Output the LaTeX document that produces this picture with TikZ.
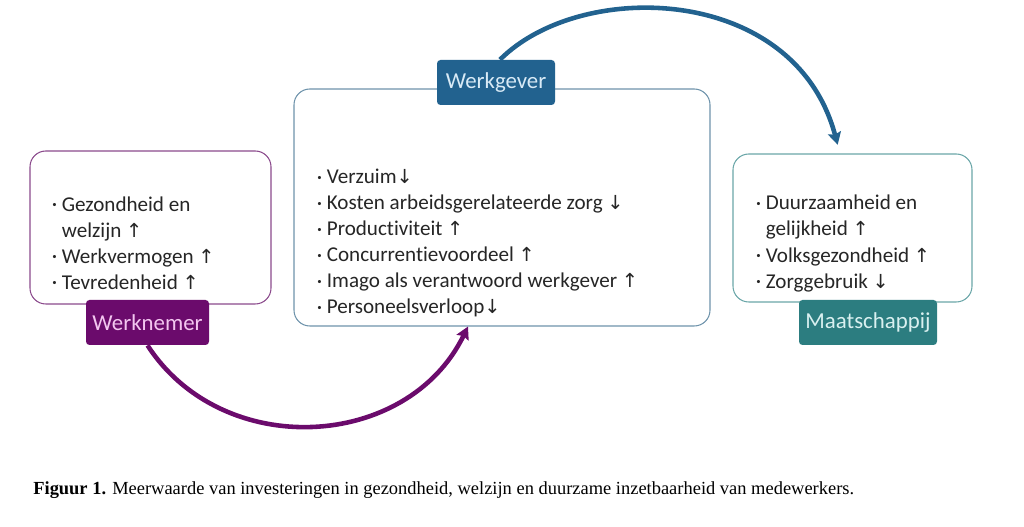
\documentclass[tikz,border=0pt]{standalone}
\usepackage{fontspec}
\setmainfont{Carlito}[Ligatures=NoCommon]
\newfontfamily\arrowfont{DejaVu Sans}
\newfontfamily\captionfont{Liberation Serif}
\usetikzlibrary{arrows.meta, positioning, calc}
\definecolor{wnPurple}{HTML}{6B0B6C}
\definecolor{wnLine}{HTML}{8B4A8C}
\definecolor{wnText}{HTML}{F3C6F0}
\definecolor{wgBlue}{HTML}{22628F}
\definecolor{wgLine}{HTML}{6E93AB}
\definecolor{wgText}{HTML}{D8EAF6}
\definecolor{mtTeal}{HTML}{2C7D80}
\definecolor{mtLine}{HTML}{6AA6A8}
\definecolor{mtText}{HTML}{D9F0F0}
\definecolor{textGray}{HTML}{262626}
\newcommand{\opsom}{\makebox[0.19cm][l]{\raisebox{0.35ex}{\tiny\textbullet}}}
\newcommand{\opsomleeg}{\hspace*{0.19cm}}
\newcommand{\pijlop}{{\arrowfont\fontsize{11}{13}\selectfont\char"2191}}
\newcommand{\pijlneer}{{\arrowfont\fontsize{11}{13}\selectfont\char"2193}}
\tikzset{
  box/.style={draw=#1, line width=0.6pt, rounded corners=9pt, fill=white},
  tag/.style={fill=#1, rounded corners=2pt, minimum height=0.9cm,
              font=\fontsize{13}{15}\selectfont},
  list/.style={align=left, inner sep=0pt, text=textGray,
               font=\fontsize{12}{14.8}\selectfont},
  flow/.style={draw=#1, line width=2.6pt, -{Stealth[length=7pt, width=7.5pt, inset=1pt]}},
}
\begin{document}
\begin{tikzpicture}
\useasboundingbox (0,0) rectangle (20.48,10.54);
\node[box=wnLine, minimum width=4.82cm, minimum height=3.06cm] (wnbox) at (3.01,5.99) {};
\node[box=wgLine, minimum width=8.32cm, minimum height=4.74cm] (wgbox) at (10.04,6.39) {};
\node[box=mtLine, minimum width=4.78cm, minimum height=2.96cm] (mtbox) at (17.05,5.98) {};

\node[list, anchor=west] (wnlist) at (1.04,5.68)
  {\opsom Gezondheid en\\ \opsomleeg welzijn \pijlop\\ \opsom Werkvermogen \pijlop\\ \opsom Tevredenheid \pijlop};
\node[list, anchor=west] (wglist) at (6.34,5.68)
  {\opsom Verzuim\pijlneer\\ \opsom Kosten arbeidsgerelateerde zorg \pijlneer\\ \opsom Productiviteit \pijlop\\
   \opsom Concurrentievoordeel \pijlop\\ \opsom Imago als verantwoord werkgever \pijlop\\ \opsom Personeelsverloop\pijlneer};
\node[list, anchor=west] (mtlist) at (15.12,5.67)
  {\opsom Duurzaamheid en\\ \opsomleeg gelijkheid \pijlop\\ \opsom Volksgezondheid \pijlop\\ \opsom Zorggebruik \pijlneer};

\node[tag=wnPurple, text=wnText, minimum width=2.46cm] (wn) at (2.95,4.09) {Werknemer};
\node[tag=wgBlue, text=wgText, minimum width=2.36cm] (wg) at (9.92,8.89) {Werkgever};
\node[tag=mtTeal, text=mtText, minimum width=2.76cm] (mt) at (17.36,4.09) {Maatschappij};

\draw[flow=wnPurple] (wn.south) to[out=-57, in=-116, looseness=1.1] ([xshift=-0.68cm]wgbox.south);
\draw[flow=wgBlue, shorten >=0.18cm] ([xshift=0.08cm]wg.north)
  .. controls +(45:2.3) and +(105:3.5) .. ([xshift=-0.25cm]mtbox.north);

\node[anchor=west, inner sep=0pt, font=\captionfont\fontsize{10.5}{12.5}\selectfont] (cap) at (0.66,0.74)
  {\textbf{Figuur 1.} Meerwaarde van investeringen in gezondheid, welzijn en duurzame inzetbaarheid van medewerkers.};
\end{tikzpicture}
\end{document}
